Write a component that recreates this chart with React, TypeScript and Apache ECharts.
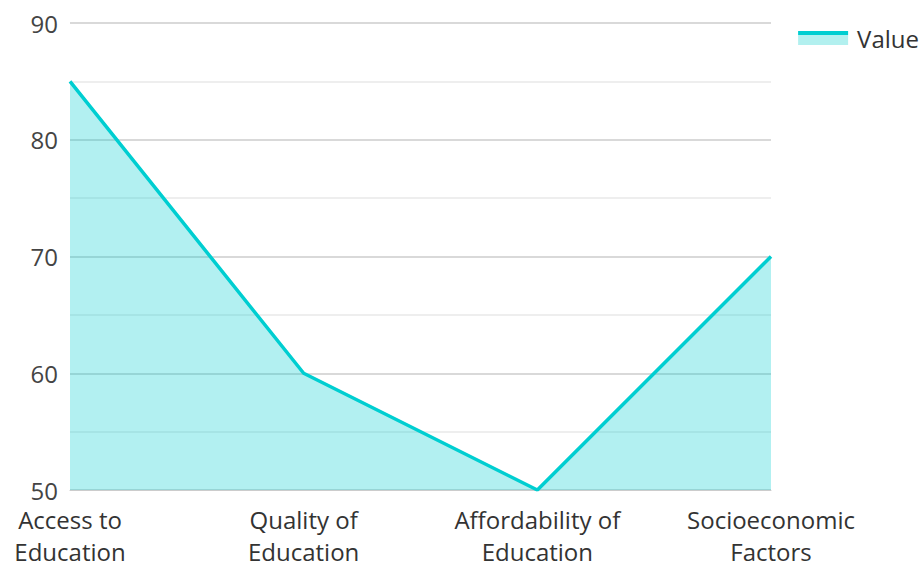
import React, { useEffect, useRef } from "react";
import * as echarts from "echarts";

const categories = [
  "Access to\nEducation",
  "Quality of\nEducation",
  "Affordability of\nEducation",
  "Socioeconomic\nFactors",
];
const values = [85, 60, 50, 70];
const seriesName = "Value";

export default function App() {
  const ref = useRef<HTMLDivElement>(null);
  useEffect(() => {
    document.body.style.margin = "0";
    const chart = echarts.init(ref.current!, undefined, { renderer: "svg" });
    chart.setOption({
      animation: false,
      textStyle: { fontFamily: "Open Sans" },
      legend: {
        data: [
          {
            name: seriesName,
            icon: "rect",
            itemStyle: {
              color: {
                type: "linear",
                x: 0,
                y: 0,
                x2: 0,
                y2: 1,
                colorStops: [
                  { offset: 0, color: "#00CED1" },
                  { offset: 0.28, color: "#00CED1" },
                  { offset: 0.28, color: "#b2f0ef" },
                  { offset: 1, color: "#b2f0ef" },
                ],
              },
            },
          },
        ],
        right: 2,
        top: 26,
        padding: 0,
        itemWidth: 50,
        itemHeight: 14,
        itemGap: 8,
        textStyle: {
          fontSize: 24,
          color: "#333",
          fontFamily: "Open Sans",
          padding: [0, 0, 12, 4],
        },
      },
      grid: {
        left: 70,
        right: 150,
        top: 23,
        bottom: 72,
        containLabel: false,
        outerBoundsMode: "none",
      },
      xAxis: {
        type: "category",
        data: categories,
        boundaryGap: false,
        axisTick: { show: false },
        axisLine: { lineStyle: { color: "#ccc" } },
        axisLabel: {
          fontSize: 24,
          color: "#333",
          lineHeight: 32,
          margin: 13,
          interval: 0,
          fontFamily: "Open Sans",
        },
      },
      yAxis: {
        type: "value",
        min: 50,
        max: 90,
        interval: 10,
        axisLabel: {
          fontSize: 24,
          lineHeight: 20,
          color: "#444",
          margin: 12,
          fontFamily: "Open Sans",
        },
        splitLine: { lineStyle: { color: "#ccc", width: 1.5 } },
        minorTick: { show: false, splitNumber: 2 },
        minorSplitLine: { show: true, lineStyle: { color: "#e8e8e8", width: 1.5 } },
      },
      series: [
        {
          name: seriesName,
          type: "line",
          data: values,
          showSymbol: false,
          lineStyle: { color: "#00CED1", width: 3.5 },
          itemStyle: { color: "#00CED1" },
          areaStyle: { color: "rgba(0,206,209,0.3)", opacity: 1 },
        },
      ],
    });
    return () => chart.dispose();
  }, []);
  return <div ref={ref} style={{ width: 921, height: 562 }} />;
}
